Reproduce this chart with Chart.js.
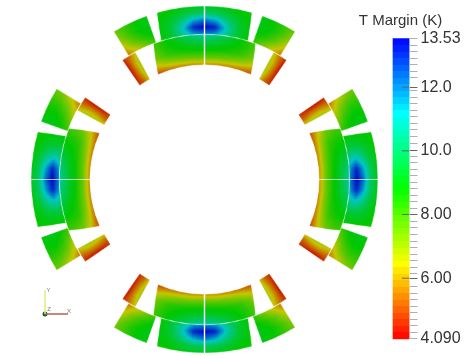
<!DOCTYPE html>
<html>
<head>
<meta charset="utf-8">
<title>T Margin</title>
<script src="https://cdn.jsdelivr.net/npm/chart.js@4/dist/chart.umd.min.js"></script>
<style>
  html, body { margin: 0; padding: 0; background: #fff; }
  canvas { display: block; }
</style>
</head>
<body>
<canvas id="chart" width="474" height="359"></canvas>
<script>
// T margin (K), one row per lateral step, inner radius -> outer radius
const mainOuterT = [
  [12.0, 13.5, 12.2, 10.0, 9.2],
  [11.6, 13.1, 11.6, 9.9, 9.1],
  [10.4, 11.0, 10.4, 9.5, 9.0],
  [9.4, 9.5, 9.4, 9.1, 8.8],
  [8.8, 8.9, 8.9, 8.8, 8.6]
];
const mainInnerT = [
  [5.8, 7.7, 8.8, 9.6, 10.6],
  [5.7, 7.6, 8.7, 9.4, 10.2],
  [5.6, 7.4, 8.5, 9.0, 9.5],
  [5.4, 7.0, 8.2, 8.6, 8.8],
  [5.0, 6.3, 7.4, 7.9, 8.1]
];
const sideOuterT = [
  [8.2, 8.9, 9.1, 9.0],
  [7.4, 8.4, 8.9, 8.8],
  [6.4, 7.6, 8.2, 8.3],
  [5.5, 6.4, 7.2, 7.6]
];
const sideInnerT = [
  [6.4, 6.9, 7.0, 6.6],
  [5.2, 5.7, 5.8, 5.5],
  [4.7, 4.4, 4.3, 4.6]
];

// block outlines: radius [in, out], start and end angle from pole axis [at r in, at r out]
const mainOuterShape = { r: [145.6, 173], from: [0, 0], to: [17.2, 15.8] };
const mainInnerShape = { r: [115, 144.6], from: [0, 0], to: [23.7, 20.5] };
const sideOuterShape = { r: [145.6, 173], from: [19.6, 19.6], to: [31.4, 31.4] };
const sideInnerShape = { r: [114.5, 144.4], from: [28.7, 28.7], to: [34.4, 34.4] };

const poleAngles = [90, 0, -90, 180];

const tMin = 4.09;
const tMax = 13.53;
const majorTicks = [12, 10, 8, 6];
const tickLabels = { 13.53: '13.53', 12: '12.0', 10: '10.0', 8: '8.00', 6: '6.00', 4.09: '4.090' };

const legendTitle = 'T Margin (K)';

// orientation axes in the corner
const triadOrigin = { x: -159.5, y: -134.5 };
const triadYTip = { x: -159.5, y: -110.5 };
const triadXTip = { x: -136.5, y: -134.5 };

// rainbow map, red at tMin to blue at tMax
function tColor(t, light) {
  const hue = (t - tMin) / (tMax - tMin) * 240;
  return 'hsl(' + hue.toFixed(1) + ',100%,' + light + '%)';
}

function polar(angle, r) {
  const a = angle * Math.PI / 180;
  return { x: r * Math.cos(a), y: r * Math.sin(a) };
}

// one scatter dataset per block, the points are the value nodes
function blockDataset(values, shape, pole, side) {
  const data = [];
  const nu = values.length;
  const nv = values[0].length;
  for (let i = 0; i < nu; i++) {
    for (let j = 0; j < nv; j++) {
      const u = i / (nu - 1);
      const v = j / (nv - 1);
      const a = shape.from[0] + (shape.from[1] - shape.from[0]) * v;
      const b = shape.to[0] + (shape.to[1] - shape.to[0]) * v;
      const r = shape.r[0] + (shape.r[1] - shape.r[0]) * v;
      const p = polar(pole + side * (a + (b - a) * u), r);
      data.push({ x: p.x, y: p.y, t: values[i][j] });
    }
  }
  return { type: 'scatter', data: data, pointRadius: 0, isField: true, nu: nu, nv: nv };
}

const blocks = [];
poleAngles.forEach(pole => {
  [1, -1].forEach(side => {
    blocks.push(blockDataset(mainOuterT, mainOuterShape, pole, side));
    blocks.push(blockDataset(mainInnerT, mainInnerShape, pole, side));
    blocks.push(blockDataset(sideOuterT, sideOuterShape, pole, side));
    blocks.push(blockDataset(sideInnerT, sideInnerShape, pole, side));
  });
});

// white split line down the middle of each pole
const midLines = poleAngles.map(pole => ({
  type: 'scatter',
  showLine: true,
  pointRadius: 0,
  borderColor: pole === 0 || pole === 180 ? 'rgba(255,255,255,0.7)' : '#ffffff',
  borderWidth: pole === 0 || pole === 180 ? 1 : 1.4,
  data: [polar(pole, 114), polar(pole, 174)]
}));

const triad = [
  { type: 'scatter', showLine: true, pointRadius: 0, borderColor: '#dcef7a', borderWidth: 1.5, data: [triadOrigin, triadYTip] },
  { type: 'scatter', showLine: true, pointRadius: 0, borderColor: '#b5604c', borderWidth: 1.5, data: [triadOrigin, triadXTip] },
  { type: 'scatter', pointRadius: 2.5, pointBackgroundColor: '#12602c', pointBorderWidth: 0, data: [triadOrigin] }
];

// colour bar, one floating bar on the T axis
const colorBar = {
  type: 'bar',
  yAxisID: 'yT',
  xAxisID: 'x',
  barThickness: 16.5,
  grouped: false,
  borderWidth: 0,
  borderSkipped: false,
  data: [{ x: 196.75, y: [tMin, tMax] }],
  backgroundColor: ctx => {
    const axis = ctx.chart.scales.yT;
    if (!axis) return '#00ff00';
    const top = axis.getPixelForValue(tMax);
    const bottom = axis.getPixelForValue(tMin);
    // scale not laid out yet on the first pass
    if (!isFinite(top) || !isFinite(bottom)) return '#00ff00';
    const g = ctx.chart.ctx.createLinearGradient(0, top, 0, bottom);
    const bands = 46;
    for (let i = 0; i < bands; i++) {
      const c = tColor(tMax - (tMax - tMin) * (i + 0.5) / bands, 50);
      g.addColorStop(i / bands, c);
      g.addColorStop((i + 1) / bands, c);
    }
    return g;
  }
};

// the major ticks run over the bar too
const barTicks = {
  type: 'scatter',
  yAxisID: 'yT',
  pointStyle: 'line',
  pointRadius: 3.8,
  pointBorderColor: '#666666',
  pointBorderWidth: 1,
  data: majorTicks.map(t => ({ x: 201.2, y: t }))
};

// paints the blocks from their nodes on a 3x sheet, each cell shaded across by small quads
const fieldPlugin = {
  id: 'field',
  beforeDatasetsDraw(chart) {
    const xs = chart.scales.x;
    const ys = chart.scales.y;
    const zoom = 3;
    const steps = 8;
    const sheet = document.createElement('canvas');
    sheet.width = chart.width * zoom;
    sheet.height = chart.height * zoom;
    const ctx = sheet.getContext('2d');
    ctx.scale(zoom, zoom);
    ctx.lineWidth = 0.4;
    chart.data.datasets.forEach(ds => {
      if (!ds.isField) return;
      const at = (i, j) => {
        const n = ds.data[i * ds.nv + j];
        return { x: xs.getPixelForValue(n.x), y: ys.getPixelForValue(n.y), t: n.t };
      };
      for (let i = 0; i < ds.nu - 1; i++) {
        for (let j = 0; j < ds.nv - 1; j++) {
          const a = at(i, j), b = at(i + 1, j), c = at(i + 1, j + 1), d = at(i, j + 1);
          const mix = (s, w, k) => a[k] * (1 - s) * (1 - w) + b[k] * s * (1 - w) + c[k] * s * w + d[k] * (1 - s) * w;
          for (let p = 0; p < steps; p++) {
            for (let q = 0; q < steps; q++) {
              const s0 = p / steps, s1 = (p + 1) / steps, w0 = q / steps, w1 = (q + 1) / steps;
              const col = tColor(mix((s0 + s1) / 2, (w0 + w1) / 2, 't'), 39);
              ctx.beginPath();
              ctx.moveTo(mix(s0, w0, 'x'), mix(s0, w0, 'y'));
              ctx.lineTo(mix(s1, w0, 'x'), mix(s1, w0, 'y'));
              ctx.lineTo(mix(s1, w1, 'x'), mix(s1, w1, 'y'));
              ctx.lineTo(mix(s0, w1, 'x'), mix(s0, w1, 'y'));
              ctx.closePath();
              ctx.fillStyle = col;
              ctx.strokeStyle = col;
              ctx.fill();
              ctx.stroke();
            }
          }
        }
      }
    });
    chart.ctx.save();
    chart.ctx.imageSmoothingEnabled = true;
    chart.ctx.imageSmoothingQuality = 'high';
    chart.ctx.drawImage(sheet, 0, 0, chart.width, chart.height);
    chart.ctx.restore();
  },
  afterDraw(chart) {
    const ctx = chart.ctx;
    const xs = chart.scales.x;
    const ys = chart.scales.y;
    ctx.save();
    ctx.fillStyle = '#333333';
    ctx.font = '15px "Liberation Sans"';
    ctx.textAlign = 'center';
    ctx.textBaseline = 'alphabetic';
    ctx.fillText(legendTitle, 400.5, 25);
    // little axis letters
    ctx.fillStyle = '#777777';
    ctx.font = '6px "Liberation Sans"';
    ctx.fillText('Y', xs.getPixelForValue(triadYTip.x) + 3.5, ys.getPixelForValue(triadYTip.y) + 2);
    ctx.fillText('Z', xs.getPixelForValue(triadOrigin.x) + 4, ys.getPixelForValue(triadOrigin.y) - 3);
    ctx.fillText('X', xs.getPixelForValue(triadXTip.x) + 1, ys.getPixelForValue(triadXTip.y) - 1);
    ctx.restore();
  }
};

// minor ticks evenly down the bar, plus the labelled ones
function buildTicks(axis) {
  const list = [];
  for (let i = 0; i <= 46; i++) {
    const v = tMax - (tMax - tMin) * i / 46;
    if (i === 0) list.push(tMax);
    else if (i === 46) list.push(tMin);
    else if (!majorTicks.some(m => Math.abs(m - v) < 0.103)) list.push(v);
  }
  majorTicks.forEach(m => list.push(m));
  axis.ticks = list.sort((a, b) => a - b).map(v => ({ value: v }));
}

const chart = new Chart(document.getElementById('chart'), {
  type: 'scatter',
  data: { datasets: [...midLines, ...triad, barTicks, colorBar, ...blocks] },
  options: {
    responsive: false,
    animation: false,
    events: [],
    layout: { padding: 0, autoPadding: false },
    plugins: { legend: { display: false }, tooltip: { enabled: false }, title: { display: false } },
    scales: {
      x: { type: 'linear', min: -204.5, max: 205, offset: false, display: false },
      y: { type: 'linear', min: -179.5, max: 179.5, display: false },
      yT: {
        type: 'linear',
        position: 'right',
        // 38.5 px above 13.53 and 20 px below 4.09 in the 359 px plot
        min: 3.4617,
        max: 14.739,
        afterBuildTicks: buildTicks,
        afterFit(scale) {
          scale.width = 64.5;
          scale.paddingTop = 0;
          scale.paddingBottom = 0;
        },
        border: { display: false },
        grid: {
          drawOnChartArea: false,
          tickLength: 8,
          tickWidth: 1,
          tickColor: ctx => majorTicks.includes(ctx.tick.value) ? '#666666' : '#b0b0b0'
        },
        ticks: {
          autoSkip: false,
          maxRotation: 0,
          padding: 3,
          color: '#333333',
          font: { family: '"Liberation Sans"', size: 16 },
          callback: value => tickLabels[value] || ''
        }
      }
    }
  },
  plugins: [fieldPlugin]
});
</script>
</body>
</html>
